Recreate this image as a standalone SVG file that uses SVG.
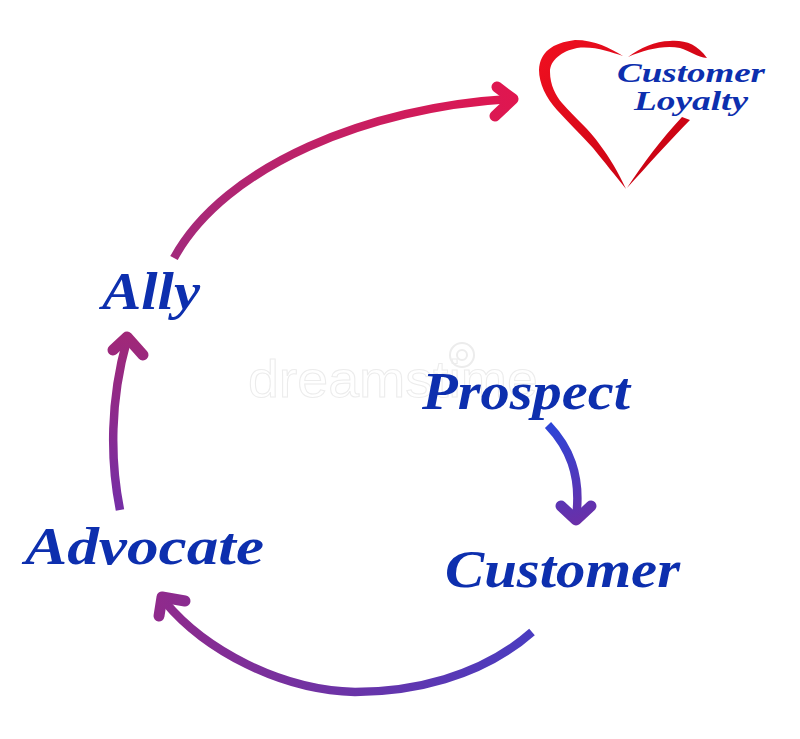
<svg xmlns="http://www.w3.org/2000/svg" width="800" height="739" viewBox="0 0 800 739">
<style>
.l{font-family:"Liberation Serif","DejaVu Serif",serif;font-style:italic;font-weight:bold;fill:#0d2fae}
.a{fill:none;stroke-width:8.5;stroke-linejoin:round}
.h{stroke-linecap:round;stroke-width:11}
.w{font-family:"Liberation Sans",sans-serif;font-size:52px;fill:none;stroke:#ececec;stroke-width:1}
</style>
<defs>
<linearGradient id="g1" gradientUnits="userSpaceOnUse" x1="547" y1="424" x2="576" y2="524"><stop offset="0" stop-color="#2b45d8"/><stop offset="1" stop-color="#6a2fa8"/></linearGradient>
<linearGradient id="g2" gradientUnits="userSpaceOnUse" x1="532" y1="632" x2="160" y2="596"><stop offset="0" stop-color="#4a3cc0"/><stop offset="1" stop-color="#8f2a8c"/></linearGradient>
<linearGradient id="g3" gradientUnits="userSpaceOnUse" x1="120" y1="510" x2="128" y2="336"><stop offset="0" stop-color="#752ea6"/><stop offset="1" stop-color="#a02878"/></linearGradient>
<linearGradient id="g4" gradientUnits="userSpaceOnUse" x1="174" y1="258" x2="515" y2="98"><stop offset="0" stop-color="#a32a7c"/><stop offset="1" stop-color="#e0164f"/></linearGradient>
<linearGradient id="gh" gradientUnits="userSpaceOnUse" x1="540" y1="40" x2="700" y2="190"><stop offset="0" stop-color="#f01020"/><stop offset="1" stop-color="#c00010"/></linearGradient>
</defs>
<rect width="800" height="739" fill="#fff"/>
<text class="w" x="248" y="397" textLength="290" lengthAdjust="spacingAndGlyphs">dreamstime</text>
<circle cx="462" cy="355" r="12" fill="none" stroke="#ececec" stroke-width="2"/>
<circle cx="462" cy="355" r="5" fill="none" stroke="#ececec" stroke-width="2"/>
<g id="connectors">
<g id="c1">
<path class="a" stroke="url(#g1)" d="M548 425C568 446 582 474 576 518"/>
<path class="a h" stroke="url(#g1)" d="M561 506L576 520L591 506"/>
</g>
<g id="c2">
<path class="a" stroke="url(#g2)" d="M532 632C480 678 410 692 355 692C280 690 205 650 165 602"/>
<path class="a h" stroke="url(#g2)" d="M159 616L162 597L185 601"/>
</g>
<g id="c3">
<path class="a" stroke="url(#g3)" d="M120 510C110 460 110 400 127 340"/>
<path class="a h" stroke="url(#g3)" d="M113 350L127 337L143 355"/>
</g>
<g id="c4">
<path class="a" stroke="url(#g4)" d="M174 258C225 165 370 107 510 99"/>
<path class="a h" stroke="url(#g4)" d="M497 87L513 99L495 116"/>
</g>
</g>
<g id="heart">
<path fill="url(#gh)" d="M626 189C615 175 605 163 593 148C580 134 568 122 557 110C546 98 539 83 539 70C540 52 552 43 575 40C595 40 610 48 623 56C610 52 595 46 577 48C562 51 550 60 550 72C550 85 556 96 562 103C575 118 590 130 600 145C610 158 618 172 626 189Z"/>
<path fill="url(#gh)" d="M628 57C640 48 655 41 670 41C685 40 697 44 707 58C697 57 690 51 680 48C663 45 645 50 628 57Z"/>
<path fill="url(#gh)" d="M627 188C642 165 662 138 682 117L690 120C672 138 647 166 627 188Z"/>
<text class="l" x="617" y="82" font-size="28" textLength="148" lengthAdjust="spacingAndGlyphs">Customer</text>
<text class="l" x="634" y="110" font-size="28" textLength="114" lengthAdjust="spacingAndGlyphs">Loyalty</text>
</g>
<g id="ally"><text class="l" x="102" y="309" font-size="52" textLength="98" lengthAdjust="spacingAndGlyphs">Ally</text></g>
<g id="prospect"><text class="l" x="422" y="409" font-size="52" textLength="208" lengthAdjust="spacingAndGlyphs">Prospect</text></g>
<g id="customer"><text class="l" x="445" y="587" font-size="52" textLength="235" lengthAdjust="spacingAndGlyphs">Customer</text></g>
<g id="advocate"><text class="l" x="25" y="564" font-size="52" textLength="239" lengthAdjust="spacingAndGlyphs">Advocate</text></g>
</svg>
